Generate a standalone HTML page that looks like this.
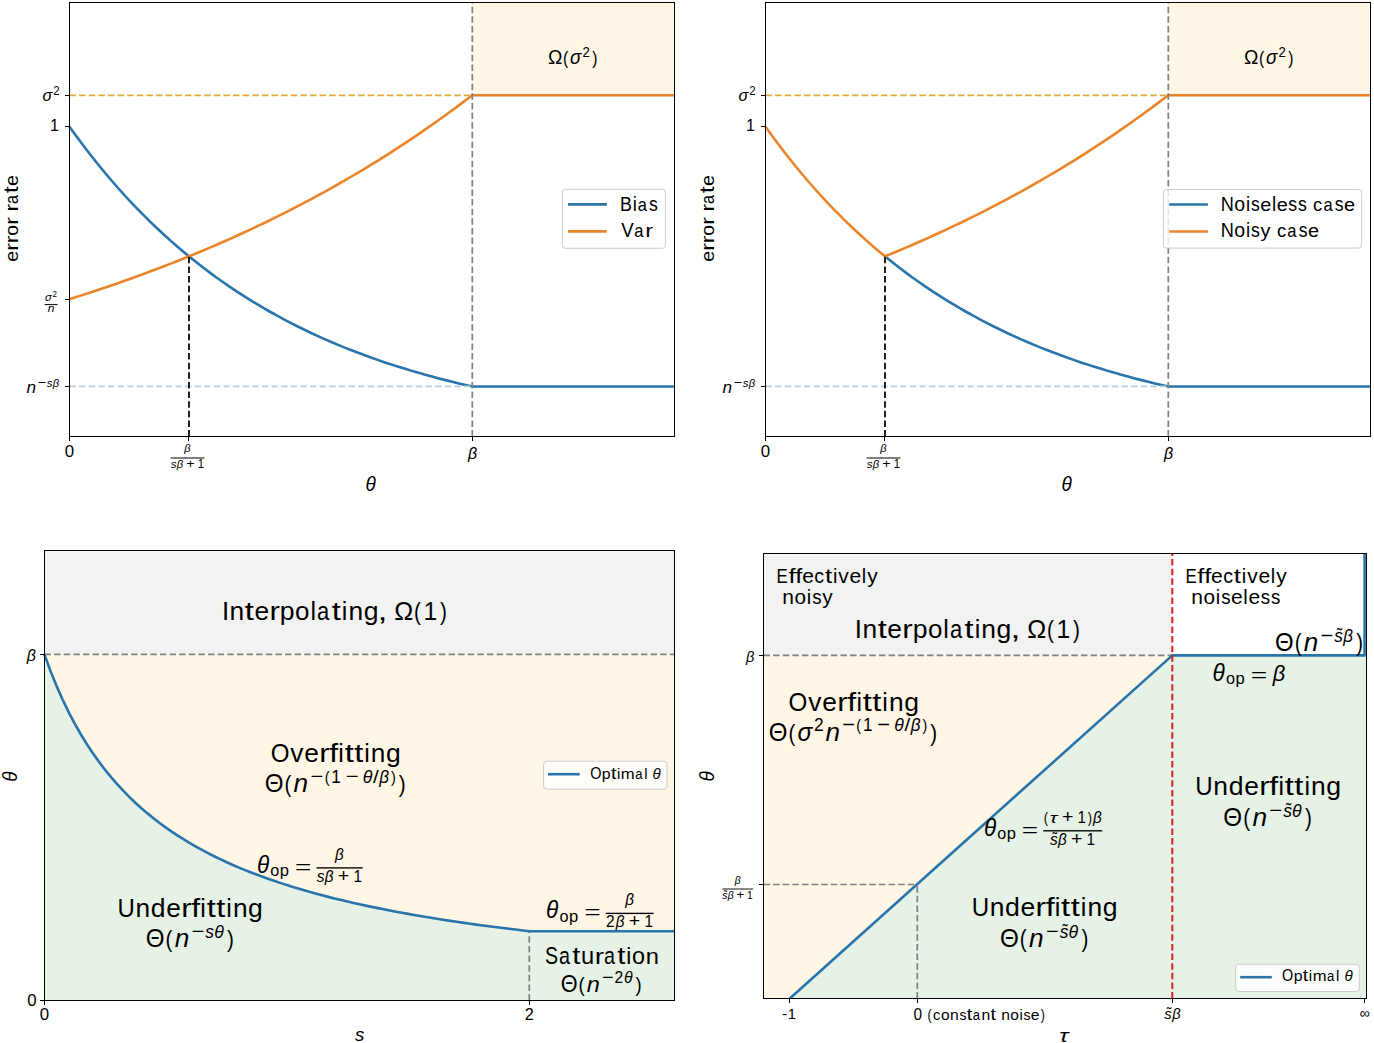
<!DOCTYPE html>
<html><head><meta charset="utf-8"><style>html,body{margin:0;padding:0;background:#fff;}svg{display:block;} svg text{font-family:"Liberation Sans", sans-serif;}</style></head>
<body>
<svg width="1374" height="1043" viewBox="0 0 1374 1043">
<rect width="1374" height="1043" fill="#fff"/>
<rect x="472.3" y="2.5" width="202.2" height="92.8" fill="#fff6e6"/>
<polyline points="69.5,126.77 76.21,136.06 82.93,145.08 89.64,153.82 96.35,162.3 103.07,170.52 109.78,178.5 116.49,186.24 123.21,193.75 129.92,201.03 136.63,208.09 143.35,214.94 150.06,221.59 156.77,228.03 163.49,234.29 170.2,240.35 176.91,246.23 183.63,251.94 190.34,257.47 197.05,262.84 203.77,268.05 210.48,273.1 217.19,278 223.91,282.75 230.62,287.36 237.33,291.83 244.05,296.17 250.76,300.37 257.47,304.45 264.19,308.41 270.9,312.25 277.61,315.97 284.33,319.58 291.04,323.09 297.75,326.48 304.47,329.78 311.18,332.98 317.89,336.08 324.61,339.09 331.32,342.01 338.03,344.84 344.75,347.58 351.46,350.24 358.17,352.83 364.89,355.33 371.6,357.76 378.31,360.12 385.03,362.4 391.74,364.62 398.45,366.77 405.17,368.86 411.88,370.88 418.59,372.85 425.31,374.75 432.02,376.6 438.73,378.39 445.45,380.13 452.16,381.81 458.87,383.45 465.59,385.03 472.3,386.57 674.5,386.57" fill="none" stroke="#2874ab" stroke-width="2.6" stroke-linejoin="round" stroke-linecap="butt"/>
<polyline points="69.5,299.14 76.21,297.03 82.93,294.88 89.64,292.71 96.35,290.5 103.07,288.25 109.78,285.98 116.49,283.66 123.21,281.32 129.92,278.94 136.63,276.52 143.35,274.06 150.06,271.57 156.77,269.04 163.49,266.48 170.2,263.87 176.91,261.22 183.63,258.54 190.34,255.81 197.05,253.05 203.77,250.24 210.48,247.39 217.19,244.49 223.91,241.55 230.62,238.57 237.33,235.55 244.05,232.47 250.76,229.35 257.47,226.19 264.19,222.97 270.9,219.71 277.61,216.4 284.33,213.04 291.04,209.62 297.75,206.16 304.47,202.64 311.18,199.07 317.89,195.45 324.61,191.77 331.32,188.04 338.03,184.25 344.75,180.4 351.46,176.5 358.17,172.53 364.89,168.51 371.6,164.42 378.31,160.28 385.03,156.07 391.74,151.79 398.45,147.46 405.17,143.05 411.88,138.58 418.59,134.05 425.31,129.44 432.02,124.77 438.73,120.02 445.45,115.21 452.16,110.32 458.87,105.35 465.59,100.31 472.3,95.2 674.5,95.2" fill="none" stroke="#ec842a" stroke-width="2.6" stroke-linejoin="round" stroke-linecap="butt"/>
<line x1="69.5" y1="95.3" x2="472.3" y2="95.3" stroke="#e5a93c" stroke-width="1.73" stroke-dasharray="6.5 3.12"/>
<line x1="69.5" y1="386.4" x2="472.3" y2="386.4" stroke="#b3d3e0" stroke-width="1.73" stroke-dasharray="6.5 3.12"/>
<line x1="472.3" y1="436.5" x2="472.3" y2="2.5" stroke="#808080" stroke-width="1.73" stroke-dasharray="6.5 3.12"/>
<line x1="188.98" y1="436.5" x2="188.98" y2="256.37" stroke="#000" stroke-width="1.73" stroke-dasharray="6.5 3.12"/>
<rect x="69.5" y="2.5" width="605" height="434" fill="none" stroke="#000" stroke-width="1"/>
<line x1="65" y1="95.5" x2="69.5" y2="95.5" stroke="#000" stroke-width="1"/>
<line x1="65" y1="126.5" x2="69.5" y2="126.5" stroke="#000" stroke-width="1"/>
<line x1="65" y1="386.5" x2="69.5" y2="386.5" stroke="#000" stroke-width="1"/>
<line x1="65" y1="299.5" x2="69.5" y2="299.5" stroke="#000" stroke-width="1"/>
<line x1="69.5" y1="436.5" x2="69.5" y2="441" stroke="#000" stroke-width="1"/>
<line x1="188.5" y1="436.5" x2="188.5" y2="441" stroke="#000" stroke-width="1"/>
<line x1="472.5" y1="436.5" x2="472.5" y2="441" stroke="#000" stroke-width="1"/>
<g><text transform="matrix(1.0024,0,0,1.0436,42.61,101.07)" font-size="16" font-style="italic">σ</text><text transform="matrix(1.0161,0,0,1.0629,53.34,94.95)" font-size="11.2">2</text></g>
<g><text transform="matrix(1.0068,0,0,1.0596,50.03,131.4)" font-size="16">1</text></g>
<g><text transform="matrix(1.0024,0,0,1.0436,44.97,300.94)" font-size="11.2" font-style="italic">σ</text><text transform="matrix(1.0161,0,0,1.0629,52.48,296.65)" font-size="7.84">2</text><text transform="matrix(1.0741,0,0,1.0418,47.8,312.37)" font-size="11.2" font-style="italic">n</text><rect x="44.71" y="304.1" width="12.89" height="1"/></g>
<g><text transform="matrix(1.0741,0,0,1.0418,26.57,392.99)" font-size="16" font-style="italic">n</text><text transform="matrix(1.2884,0,0,1.1644,37.65,386.86)" font-size="11.2">−</text><text transform="matrix(1.0246,0,0,1.0509,46.66,386.86)" font-size="11.2" font-style="italic">s</text><text transform="matrix(1.0026,0,0,1.0450,52.66,386.86)" font-size="11.2" font-style="italic">β</text></g>
<g><text transform="matrix(1.0541,0,0,1.0683,64.81,456.57)" font-size="16">0</text></g>
<g><text transform="matrix(1.0026,0,0,1.0450,184.18,452.17)" font-size="11.2" font-style="italic">β</text><text transform="matrix(1.0246,0,0,1.0509,170.65,468.08)" font-size="11.2" font-style="italic">s</text><text transform="matrix(1.0026,0,0,1.0450,176.65,468.08)" font-size="11.2" font-style="italic">β</text><text transform="matrix(1.2884,0,0,1.2000,186.2,468.08)" font-size="11.2">+</text><text transform="matrix(1.0068,0,0,1.0596,197.66,468.08)" font-size="11.2">1</text><rect x="170.56" y="457.5" width="33.86" height="1"/></g>
<g><text transform="matrix(1.0026,0,0,1.0450,468.11,458.76)" font-size="16" font-style="italic">β</text></g>
<g><text transform="matrix(1.0363,0,0,1.0605,365.57,491.05)" font-size="18.3" font-style="italic">θ</text></g>
<g transform="translate(18.16,262) rotate(-90)"><text transform="matrix(1.0801,0,0,1.0481,0.17,-0.02)" font-size="18.1">e</text><text transform="matrix(1.2812,0,0,1.0408,11.24,-0.02)" font-size="18.1">r</text><text transform="matrix(1.2812,0,0,1.0408,18.68,-0.02)" font-size="18.1">r</text><text transform="matrix(1.0631,0,0,1.0481,26.21,-0.02)" font-size="18.1">o</text><text transform="matrix(1.2812,0,0,1.0408,37.2,-0.02)" font-size="18.1">r</text><text transform="matrix(1.2812,0,0,1.0408,50.39,-0.02)" font-size="18.1">r</text><text transform="matrix(0.8992,0,0,1.0481,58.12,-0.02)" font-size="18.1">a</text><text transform="matrix(1.3365,0,0,1.0731,68.94,-0.02)" font-size="18.1">t</text><text transform="matrix(1.0801,0,0,1.0481,76.09,-0.02)" font-size="18.1">e</text></g>
<g><text transform="matrix(1.0391,0,0,1.0566,547.98,64.19)" font-size="18.6">Ω</text><text transform="matrix(0.8453,0,0,0.9560,562.93,64.19)" font-size="18.6">(</text><text transform="matrix(1.0024,0,0,1.0436,570,64.19)" font-size="18.6" font-style="italic">σ</text><text transform="matrix(1.0161,0,0,1.0629,582.47,57.07)" font-size="13.02">2</text><text transform="matrix(0.8453,0,0,0.9560,592.37,64.19)" font-size="18.6">)</text></g>
<rect x="562.3" y="189.3" width="103.1" height="59" rx="3" ry="3" fill="#ffffff" fill-opacity="0.8" stroke="#cccccc" stroke-width="1"/>
<line x1="568" y1="204.4" x2="606.8" y2="204.4" stroke="#2874ab" stroke-width="2.6"/>
<line x1="568" y1="231.4" x2="606.8" y2="231.4" stroke="#ec842a" stroke-width="2.6"/>
<g><text transform="matrix(0.9716,0,0,1.0596,619.93,210.7)" font-size="18.4">B</text><text transform="matrix(1.0222,0,0,1.0485,632.69,210.7)" font-size="18.4">i</text><text transform="matrix(0.8992,0,0,1.0481,637.73,210.7)" font-size="18.4">a</text><text transform="matrix(0.9586,0,0,1.0509,649.11,210.7)" font-size="18.4">s</text></g>
<g><text transform="matrix(1.0148,0,0,1.0596,621.32,237.2)" font-size="18.4">V</text><text transform="matrix(0.8992,0,0,1.0481,634.25,237.2)" font-size="18.4">a</text><text transform="matrix(1.2812,0,0,1.0408,645.22,237.2)" font-size="18.4">r</text></g>
<rect x="1168.3" y="2.5" width="202.2" height="92.8" fill="#fff6e6"/>
<polyline points="886.34,257.47 893.05,262.84 899.77,268.05 906.48,273.1 913.19,278 919.91,282.75 926.62,287.36 933.33,291.83 940.05,296.17 946.76,300.37 953.47,304.45 960.19,308.41 966.9,312.25 973.61,315.97 980.33,319.58 987.04,323.09 993.75,326.48 1000.47,329.78 1007.18,332.98 1013.89,336.08 1020.61,339.09 1027.32,342.01 1034.03,344.84 1040.75,347.58 1047.46,350.24 1054.17,352.83 1060.89,355.33 1067.6,357.76 1074.31,360.12 1081.03,362.4 1087.74,364.62 1094.45,366.77 1101.17,368.86 1107.88,370.88 1114.59,372.85 1121.31,374.75 1128.02,376.6 1134.73,378.39 1141.45,380.13 1148.16,381.81 1154.87,383.45 1161.59,385.03 1168.3,386.57 1370.5,386.57" fill="none" stroke="#2874ab" stroke-width="2.6" stroke-linejoin="round" stroke-linecap="butt"/>
<polyline points="765.5,126.77 772.21,136.06 778.93,145.08 785.64,153.82 792.35,162.3 799.07,170.52 805.78,178.5 812.49,186.24 819.21,193.75 825.92,201.03 832.63,208.09 839.35,214.94 846.06,221.59 852.77,228.03 859.49,234.29 866.2,240.35 872.91,246.23 879.63,251.94 884.98,256.37 886.34,255.81 893.05,253.05 899.77,250.24 906.48,247.39 913.19,244.49 919.91,241.55 926.62,238.57 933.33,235.55 940.05,232.47 946.76,229.35 953.47,226.19 960.19,222.97 966.9,219.71 973.61,216.4 980.33,213.04 987.04,209.62 993.75,206.16 1000.47,202.64 1007.18,199.07 1013.89,195.45 1020.61,191.77 1027.32,188.04 1034.03,184.25 1040.75,180.4 1047.46,176.5 1054.17,172.53 1060.89,168.51 1067.6,164.42 1074.31,160.28 1081.03,156.07 1087.74,151.79 1094.45,147.46 1101.17,143.05 1107.88,138.58 1114.59,134.05 1121.31,129.44 1128.02,124.77 1134.73,120.02 1141.45,115.21 1148.16,110.32 1154.87,105.35 1161.59,100.31 1168.3,95.2 1370.5,95.2" fill="none" stroke="#ec842a" stroke-width="2.6" stroke-linejoin="round" stroke-linecap="butt"/>
<line x1="765.5" y1="95.3" x2="1168.3" y2="95.3" stroke="#e5a93c" stroke-width="1.73" stroke-dasharray="6.5 3.12"/>
<line x1="765.5" y1="386.4" x2="1168.3" y2="386.4" stroke="#b3d3e0" stroke-width="1.73" stroke-dasharray="6.5 3.12"/>
<line x1="1168.3" y1="436.5" x2="1168.3" y2="2.5" stroke="#808080" stroke-width="1.73" stroke-dasharray="6.5 3.12"/>
<line x1="884.98" y1="436.5" x2="884.98" y2="256.37" stroke="#000" stroke-width="1.73" stroke-dasharray="6.5 3.12"/>
<rect x="765.5" y="2.5" width="605" height="434" fill="none" stroke="#000" stroke-width="1"/>
<line x1="761" y1="95.5" x2="765.5" y2="95.5" stroke="#000" stroke-width="1"/>
<line x1="761" y1="126.5" x2="765.5" y2="126.5" stroke="#000" stroke-width="1"/>
<line x1="761" y1="386.5" x2="765.5" y2="386.5" stroke="#000" stroke-width="1"/>
<line x1="765.5" y1="436.5" x2="765.5" y2="441" stroke="#000" stroke-width="1"/>
<line x1="884.5" y1="436.5" x2="884.5" y2="441" stroke="#000" stroke-width="1"/>
<line x1="1168.5" y1="436.5" x2="1168.5" y2="441" stroke="#000" stroke-width="1"/>
<g><text transform="matrix(1.0024,0,0,1.0436,738.61,101.07)" font-size="16" font-style="italic">σ</text><text transform="matrix(1.0161,0,0,1.0629,749.34,94.95)" font-size="11.2">2</text></g>
<g><text transform="matrix(1.0068,0,0,1.0596,746.03,131.4)" font-size="16">1</text></g>
<g><text transform="matrix(1.0741,0,0,1.0418,722.57,392.99)" font-size="16" font-style="italic">n</text><text transform="matrix(1.2884,0,0,1.1644,733.65,386.86)" font-size="11.2">−</text><text transform="matrix(1.0246,0,0,1.0509,742.66,386.86)" font-size="11.2" font-style="italic">s</text><text transform="matrix(1.0026,0,0,1.0450,748.66,386.86)" font-size="11.2" font-style="italic">β</text></g>
<g><text transform="matrix(1.0541,0,0,1.0683,760.81,456.57)" font-size="16">0</text></g>
<g><text transform="matrix(1.0026,0,0,1.0450,880.18,452.17)" font-size="11.2" font-style="italic">β</text><text transform="matrix(1.0246,0,0,1.0509,866.65,468.08)" font-size="11.2" font-style="italic">s</text><text transform="matrix(1.0026,0,0,1.0450,872.65,468.08)" font-size="11.2" font-style="italic">β</text><text transform="matrix(1.2884,0,0,1.2000,882.2,468.08)" font-size="11.2">+</text><text transform="matrix(1.0068,0,0,1.0596,893.66,468.08)" font-size="11.2">1</text><rect x="866.56" y="457.5" width="33.86" height="1"/></g>
<g><text transform="matrix(1.0026,0,0,1.0450,1164.11,458.76)" font-size="16" font-style="italic">β</text></g>
<g><text transform="matrix(1.0363,0,0,1.0605,1061.57,491.05)" font-size="18.3" font-style="italic">θ</text></g>
<g transform="translate(714.16,262) rotate(-90)"><text transform="matrix(1.0801,0,0,1.0481,0.17,-0.02)" font-size="18.1">e</text><text transform="matrix(1.2812,0,0,1.0408,11.24,-0.02)" font-size="18.1">r</text><text transform="matrix(1.2812,0,0,1.0408,18.68,-0.02)" font-size="18.1">r</text><text transform="matrix(1.0631,0,0,1.0481,26.21,-0.02)" font-size="18.1">o</text><text transform="matrix(1.2812,0,0,1.0408,37.2,-0.02)" font-size="18.1">r</text><text transform="matrix(1.2812,0,0,1.0408,50.39,-0.02)" font-size="18.1">r</text><text transform="matrix(0.8992,0,0,1.0481,58.12,-0.02)" font-size="18.1">a</text><text transform="matrix(1.3365,0,0,1.0731,68.94,-0.02)" font-size="18.1">t</text><text transform="matrix(1.0801,0,0,1.0481,76.09,-0.02)" font-size="18.1">e</text></g>
<g><text transform="matrix(1.0391,0,0,1.0566,1243.98,64.19)" font-size="18.6">Ω</text><text transform="matrix(0.8453,0,0,0.9560,1258.93,64.19)" font-size="18.6">(</text><text transform="matrix(1.0024,0,0,1.0436,1266,64.19)" font-size="18.6" font-style="italic">σ</text><text transform="matrix(1.0161,0,0,1.0629,1278.47,57.07)" font-size="13.02">2</text><text transform="matrix(0.8453,0,0,0.9560,1288.37,64.19)" font-size="18.6">)</text></g>
<rect x="1163.4" y="189.5" width="198.2" height="58.6" rx="3" ry="3" fill="#ffffff" fill-opacity="0.8" stroke="#cccccc" stroke-width="1"/>
<line x1="1169.2" y1="204.5" x2="1207.9" y2="204.5" stroke="#2874ab" stroke-width="2.6"/>
<line x1="1169.2" y1="231.5" x2="1207.9" y2="231.5" stroke="#ec842a" stroke-width="2.6"/>
<g><text transform="matrix(0.9878,0,0,1.0596,1220.71,211)" font-size="18.4">N</text><text transform="matrix(1.0631,0,0,1.0481,1234.35,211)" font-size="18.4">o</text><text transform="matrix(1.0222,0,0,1.0485,1245.89,211)" font-size="18.4">i</text><text transform="matrix(0.9586,0,0,1.0509,1251.03,211)" font-size="18.4">s</text><text transform="matrix(1.0801,0,0,1.0481,1260.29,211)" font-size="18.4">e</text><text transform="matrix(1.0222,0,0,1.0485,1271.9,211)" font-size="18.4">l</text><text transform="matrix(1.0801,0,0,1.0481,1276.72,211)" font-size="18.4">e</text><text transform="matrix(0.9586,0,0,1.0509,1288.37,211)" font-size="18.4">s</text><text transform="matrix(0.9586,0,0,1.0509,1297.96,211)" font-size="18.4">s</text><text transform="matrix(1.0034,0,0,1.0481,1313.12,211)" font-size="18.4">c</text><text transform="matrix(0.8992,0,0,1.0481,1323.41,211)" font-size="18.4">a</text><text transform="matrix(0.9586,0,0,1.0509,1334.79,211)" font-size="18.4">s</text><text transform="matrix(1.0801,0,0,1.0481,1344.04,211)" font-size="18.4">e</text></g>
<g><text transform="matrix(0.9878,0,0,1.0596,1220.71,237.4)" font-size="18.4">N</text><text transform="matrix(1.0631,0,0,1.0481,1234.35,237.4)" font-size="18.4">o</text><text transform="matrix(1.0222,0,0,1.0485,1245.89,237.4)" font-size="18.4">i</text><text transform="matrix(0.9586,0,0,1.0509,1251.03,237.4)" font-size="18.4">s</text><text transform="matrix(1.0739,0,0,1.0259,1260.61,237.4)" font-size="18.4">y</text><text transform="matrix(1.0034,0,0,1.0481,1277.08,237.4)" font-size="18.4">c</text><text transform="matrix(0.8992,0,0,1.0481,1287.37,237.4)" font-size="18.4">a</text><text transform="matrix(0.9586,0,0,1.0509,1298.75,237.4)" font-size="18.4">s</text><text transform="matrix(1.0801,0,0,1.0481,1308,237.4)" font-size="18.4">e</text></g>
<rect x="44.5" y="550.5" width="630" height="103.9" fill="#f2f2f2"/>
<polygon points="44.5,654.4 44.4,654.4 50.46,670.88 56.52,685.85 62.58,699.53 68.64,712.07 74.71,723.6 80.77,734.25 86.83,744.1 92.89,753.26 98.95,761.78 105.01,769.73 111.07,777.17 117.13,784.15 123.2,790.7 129.26,796.87 135.32,802.69 141.38,808.18 147.44,813.37 153.5,818.29 159.56,822.96 165.62,827.4 171.69,831.62 177.75,835.64 183.81,839.47 189.87,843.13 195.93,846.62 201.99,849.97 208.05,853.17 214.11,856.23 220.18,859.18 226.24,862 232.3,864.71 238.36,867.32 244.42,869.83 250.48,872.25 256.54,874.58 262.6,876.83 268.67,879 274.73,881.09 280.79,883.11 286.85,885.07 292.91,886.96 298.97,888.79 305.03,890.56 311.09,892.27 317.16,893.94 323.22,895.55 329.28,897.12 335.34,898.64 341.4,900.11 347.46,901.54 353.52,902.94 359.58,904.29 365.65,905.61 371.71,906.89 377.77,908.13 383.83,909.35 389.89,910.53 395.95,911.68 402.01,912.81 408.07,913.9 414.14,914.97 420.2,916.01 426.26,917.03 432.32,918.02 438.38,918.99 444.44,919.93 450.5,920.86 456.56,921.76 462.63,922.65 468.69,923.51 474.75,924.36 480.81,925.18 486.87,925.99 492.93,926.78 498.99,927.56 505.05,928.32 511.12,929.06 517.18,929.79 523.24,930.5 529.3,931.2 674.5,931.2 674.5,654.4" fill="#fff6e6"/>
<polygon points="44.5,1000.5 44.4,654.4 50.46,670.88 56.52,685.85 62.58,699.53 68.64,712.07 74.71,723.6 80.77,734.25 86.83,744.1 92.89,753.26 98.95,761.78 105.01,769.73 111.07,777.17 117.13,784.15 123.2,790.7 129.26,796.87 135.32,802.69 141.38,808.18 147.44,813.37 153.5,818.29 159.56,822.96 165.62,827.4 171.69,831.62 177.75,835.64 183.81,839.47 189.87,843.13 195.93,846.62 201.99,849.97 208.05,853.17 214.11,856.23 220.18,859.18 226.24,862 232.3,864.71 238.36,867.32 244.42,869.83 250.48,872.25 256.54,874.58 262.6,876.83 268.67,879 274.73,881.09 280.79,883.11 286.85,885.07 292.91,886.96 298.97,888.79 305.03,890.56 311.09,892.27 317.16,893.94 323.22,895.55 329.28,897.12 335.34,898.64 341.4,900.11 347.46,901.54 353.52,902.94 359.58,904.29 365.65,905.61 371.71,906.89 377.77,908.13 383.83,909.35 389.89,910.53 395.95,911.68 402.01,912.81 408.07,913.9 414.14,914.97 420.2,916.01 426.26,917.03 432.32,918.02 438.38,918.99 444.44,919.93 450.5,920.86 456.56,921.76 462.63,922.65 468.69,923.51 474.75,924.36 480.81,925.18 486.87,925.99 492.93,926.78 498.99,927.56 505.05,928.32 511.12,929.06 517.18,929.79 523.24,930.5 529.3,931.2 674.5,931.2 674.5,1000.5" fill="#e6f2e6"/>
<line x1="44.5" y1="654.4" x2="674.5" y2="654.4" stroke="#808080" stroke-width="1.73" stroke-dasharray="6.5 3.12"/>
<line x1="529.3" y1="1000.5" x2="529.3" y2="931.2" stroke="#808080" stroke-width="1.73" stroke-dasharray="6.5 3.12"/>
<polyline points="44.4,654.4 50.46,670.88 56.52,685.85 62.58,699.53 68.64,712.07 74.71,723.6 80.77,734.25 86.83,744.1 92.89,753.26 98.95,761.78 105.01,769.73 111.07,777.17 117.13,784.15 123.2,790.7 129.26,796.87 135.32,802.69 141.38,808.18 147.44,813.37 153.5,818.29 159.56,822.96 165.62,827.4 171.69,831.62 177.75,835.64 183.81,839.47 189.87,843.13 195.93,846.62 201.99,849.97 208.05,853.17 214.11,856.23 220.18,859.18 226.24,862 232.3,864.71 238.36,867.32 244.42,869.83 250.48,872.25 256.54,874.58 262.6,876.83 268.67,879 274.73,881.09 280.79,883.11 286.85,885.07 292.91,886.96 298.97,888.79 305.03,890.56 311.09,892.27 317.16,893.94 323.22,895.55 329.28,897.12 335.34,898.64 341.4,900.11 347.46,901.54 353.52,902.94 359.58,904.29 365.65,905.61 371.71,906.89 377.77,908.13 383.83,909.35 389.89,910.53 395.95,911.68 402.01,912.81 408.07,913.9 414.14,914.97 420.2,916.01 426.26,917.03 432.32,918.02 438.38,918.99 444.44,919.93 450.5,920.86 456.56,921.76 462.63,922.65 468.69,923.51 474.75,924.36 480.81,925.18 486.87,925.99 492.93,926.78 498.99,927.56 505.05,928.32 511.12,929.06 517.18,929.79 523.24,930.5 529.3,931.2 674.5,931.2" fill="none" stroke="#2874ab" stroke-width="2.6" stroke-linejoin="round" stroke-linecap="butt"/>
<rect x="44.5" y="550.5" width="630" height="450" fill="none" stroke="#000" stroke-width="1"/>
<line x1="40" y1="654.5" x2="44.5" y2="654.5" stroke="#000" stroke-width="1"/>
<line x1="40" y1="1000.5" x2="44.5" y2="1000.5" stroke="#000" stroke-width="1"/>
<line x1="44.5" y1="1000.5" x2="44.5" y2="1005" stroke="#000" stroke-width="1"/>
<line x1="529.5" y1="1000.5" x2="529.5" y2="1005" stroke="#000" stroke-width="1"/>
<g><text transform="matrix(1.0026,0,0,1.0450,26.63,660.86)" font-size="16" font-style="italic">β</text></g>
<g><text transform="matrix(1.0541,0,0,1.0683,27.18,1006.07)" font-size="16">0</text></g>
<g><text transform="matrix(1.0541,0,0,1.0683,39.81,1019.77)" font-size="16">0</text></g>
<g><text transform="matrix(1.0161,0,0,1.0629,524.78,1020)" font-size="16">2</text></g>
<g><text transform="matrix(1.0246,0,0,1.0509,354.98,1041.04)" font-size="18.3" font-style="italic">s</text></g>
<g transform="translate(17.4,781.71) rotate(-90)"><text transform="matrix(1.0363,0,0,1.0605,0.07,-0.01)" font-size="18.3" font-style="italic">θ</text></g>
<g><text transform="matrix(1.0576,0,0,1.0596,221.91,619.59)" font-size="24.45">I</text><text transform="matrix(1.0782,0,0,1.0408,229.58,619.59)" font-size="24.45">n</text><text transform="matrix(1.3365,0,0,1.0731,244.77,619.59)" font-size="24.45">t</text><text transform="matrix(1.0801,0,0,1.0481,254.42,619.59)" font-size="24.45">e</text><text transform="matrix(1.2812,0,0,1.0408,269.38,619.59)" font-size="24.45">r</text><text transform="matrix(1.0879,0,0,1.0308,279.79,619.59)" font-size="24.45">p</text><text transform="matrix(1.0631,0,0,1.0481,295.07,619.59)" font-size="24.45">o</text><text transform="matrix(1.0222,0,0,1.0485,310.39,619.59)" font-size="24.45">l</text><text transform="matrix(0.8992,0,0,1.0481,317.09,619.59)" font-size="24.45">a</text><text transform="matrix(1.3365,0,0,1.0731,331.71,619.59)" font-size="24.45">t</text><text transform="matrix(1.0222,0,0,1.0485,341.76,619.59)" font-size="24.45">i</text><text transform="matrix(1.0782,0,0,1.0408,348.39,619.59)" font-size="24.45">n</text><text transform="matrix(1.0869,0,0,1.0322,363.65,619.59)" font-size="24.45">g</text><text transform="matrix(1.4577,0,0,1.0229,377.62,619.59)" font-size="24.45">,</text><text transform="matrix(1.0391,0,0,1.0566,394.33,619.59)" font-size="24.45">Ω</text><text transform="matrix(0.8453,0,0,0.9560,413.99,619.59)" font-size="24.45">(</text><text transform="matrix(1.0068,0,0,1.0596,423.52,619.59)" font-size="24.45">1</text><text transform="matrix(0.8453,0,0,0.9560,440.1,619.59)" font-size="24.45">)</text></g>
<g><text transform="matrix(0.9886,0,0,1.0683,270.66,761.69)" font-size="24.4">O</text><text transform="matrix(1.0792,0,0,1.0351,290.27,761.69)" font-size="24.4">v</text><text transform="matrix(1.0801,0,0,1.0481,304.3,761.69)" font-size="24.4">e</text><text transform="matrix(1.2812,0,0,1.0408,319.23,761.69)" font-size="24.4">r</text><text transform="matrix(1.3131,0,0,1.0499,329.22,761.69)" font-size="24.4">f</text><text transform="matrix(1.0222,0,0,1.0485,338.34,761.69)" font-size="24.4">i</text><text transform="matrix(1.3365,0,0,1.0731,344.65,761.69)" font-size="24.4">t</text><text transform="matrix(1.3365,0,0,1.0731,354.22,761.69)" font-size="24.4">t</text><text transform="matrix(1.0222,0,0,1.0485,364.25,761.69)" font-size="24.4">i</text><text transform="matrix(1.0782,0,0,1.0408,370.87,761.69)" font-size="24.4">n</text><text transform="matrix(1.0869,0,0,1.0322,386.1,761.69)" font-size="24.4">g</text></g>
<g><text transform="matrix(0.9886,0,0,1.0683,264.66,791.98)" font-size="24.4">Θ</text><text transform="matrix(0.8453,0,0,0.9560,284.45,791.98)" font-size="24.4">(</text><text transform="matrix(1.0741,0,0,1.0418,293.58,791.98)" font-size="24.4" font-style="italic">n</text><text transform="matrix(1.2884,0,0,1.1644,310.48,782.64)" font-size="17.08">−</text><text transform="matrix(0.8453,0,0,0.9560,324.64,782.64)" font-size="17.08">(</text><text transform="matrix(1.0068,0,0,1.0596,331.3,782.64)" font-size="17.08">1</text><text transform="matrix(1.2884,0,0,1.1644,345.65,782.64)" font-size="17.08">−</text><text transform="matrix(1.0363,0,0,1.0605,362.63,782.64)" font-size="17.08" font-style="italic">θ</text><text transform="matrix(1.2127,0,0,1.1190,373.01,782.64)" font-size="17.08">/</text><text transform="matrix(1.0026,0,0,1.0450,379.17,782.64)" font-size="17.08" font-style="italic">β</text><text transform="matrix(0.8453,0,0,0.9560,390.95,782.64)" font-size="17.08">)</text><text transform="matrix(0.8453,0,0,0.9560,398.83,791.98)" font-size="24.4">)</text></g>
<g><text transform="matrix(0.9828,0,0,1.0651,117.55,917.39)" font-size="24.4">U</text><text transform="matrix(1.0782,0,0,1.0408,135.61,917.39)" font-size="24.4">n</text><text transform="matrix(1.0869,0,0,1.0539,150.84,917.39)" font-size="24.4">d</text><text transform="matrix(1.0801,0,0,1.0481,166.32,917.39)" font-size="24.4">e</text><text transform="matrix(1.2812,0,0,1.0408,181.24,917.39)" font-size="24.4">r</text><text transform="matrix(1.3131,0,0,1.0499,191.24,917.39)" font-size="24.4">f</text><text transform="matrix(1.0222,0,0,1.0485,200.36,917.39)" font-size="24.4">i</text><text transform="matrix(1.3365,0,0,1.0731,206.67,917.39)" font-size="24.4">t</text><text transform="matrix(1.3365,0,0,1.0731,216.23,917.39)" font-size="24.4">t</text><text transform="matrix(1.0222,0,0,1.0485,226.27,917.39)" font-size="24.4">i</text><text transform="matrix(1.0782,0,0,1.0408,232.89,917.39)" font-size="24.4">n</text><text transform="matrix(1.0869,0,0,1.0322,248.11,917.39)" font-size="24.4">g</text></g>
<g><text transform="matrix(0.9886,0,0,1.0683,145.76,946.98)" font-size="24.4">Θ</text><text transform="matrix(0.8453,0,0,0.9560,165.55,946.98)" font-size="24.4">(</text><text transform="matrix(1.0741,0,0,1.0418,174.68,946.98)" font-size="24.4" font-style="italic">n</text><text transform="matrix(1.2884,0,0,1.1644,191.58,937.64)" font-size="17.08">−</text><text transform="matrix(1.0246,0,0,1.0509,205.31,937.64)" font-size="17.08" font-style="italic">s</text><text transform="matrix(1.0363,0,0,1.0605,214.13,937.64)" font-size="17.08" font-style="italic">θ</text><text transform="matrix(0.8453,0,0,0.9560,227.01,946.98)" font-size="24.4">)</text></g>
<g><text transform="matrix(1.0363,0,0,1.0605,256.89,872.68)" font-size="21.8" font-style="italic">θ</text><text transform="matrix(1.0631,0,0,1.0481,270.3,876.26)" font-size="15.26">o</text><text transform="matrix(1.0879,0,0,1.0308,279.79,876.26)" font-size="15.26">p</text><text transform="matrix(1.2884,0,0,0.8758,294.94,872.68)" font-size="21.8">=</text><text transform="matrix(1.0026,0,0,1.0450,335.08,859.96)" font-size="15.26" font-style="italic">β</text><text transform="matrix(1.0246,0,0,1.0509,316.65,881.63)" font-size="15.26" font-style="italic">s</text><text transform="matrix(1.0026,0,0,1.0450,324.82,881.63)" font-size="15.26" font-style="italic">β</text><text transform="matrix(1.2884,0,0,1.2000,337.83,881.63)" font-size="15.26">+</text><text transform="matrix(1.0068,0,0,1.0596,353.44,881.63)" font-size="15.26">1</text><rect x="316.51" y="867.22" width="46.13" height="1.36"/></g>
<g><text transform="matrix(1.0363,0,0,1.0605,546.09,918.18)" font-size="21.8" font-style="italic">θ</text><text transform="matrix(1.0631,0,0,1.0481,559.5,921.76)" font-size="15.26">o</text><text transform="matrix(1.0879,0,0,1.0308,568.99,921.76)" font-size="15.26">p</text><text transform="matrix(1.2884,0,0,0.8758,584.14,918.18)" font-size="21.8">=</text><text transform="matrix(1.0026,0,0,1.0450,625.15,905.46)" font-size="15.26" font-style="italic">β</text><text transform="matrix(1.0161,0,0,1.0629,606.05,927.13)" font-size="15.26">2</text><text transform="matrix(1.0026,0,0,1.0450,615.78,927.13)" font-size="15.26" font-style="italic">β</text><text transform="matrix(1.2884,0,0,1.2000,628.79,927.13)" font-size="15.26">+</text><text transform="matrix(1.0068,0,0,1.0596,644.4,927.13)" font-size="15.26">1</text><rect x="605.71" y="912.72" width="47.89" height="1.36"/></g>
<g><text transform="matrix(0.8914,0,0,1.0683,545.11,963.69)" font-size="22">S</text><text transform="matrix(0.8992,0,0,1.0481,559,963.69)" font-size="22">a</text><text transform="matrix(1.3365,0,0,1.0731,572.14,963.69)" font-size="22">t</text><text transform="matrix(1.0782,0,0,1.0672,580.95,963.69)" font-size="22">u</text><text transform="matrix(1.2812,0,0,1.0408,594.69,963.69)" font-size="22">r</text><text transform="matrix(0.8992,0,0,1.0481,604.09,963.69)" font-size="22">a</text><text transform="matrix(1.3365,0,0,1.0731,617.24,963.69)" font-size="22">t</text><text transform="matrix(1.0222,0,0,1.0485,626.29,963.69)" font-size="22">i</text><text transform="matrix(1.0631,0,0,1.0481,632.06,963.69)" font-size="22">o</text><text transform="matrix(1.0782,0,0,1.0408,645.71,963.69)" font-size="22">n</text></g>
<g><text transform="matrix(0.9886,0,0,1.0683,560.77,991.68)" font-size="21.9">Θ</text><text transform="matrix(0.8453,0,0,0.9560,578.54,991.68)" font-size="21.9">(</text><text transform="matrix(1.0741,0,0,1.0418,586.73,991.68)" font-size="21.9" font-style="italic">n</text><text transform="matrix(1.2884,0,0,1.1644,601.9,983.3)" font-size="15.33">−</text><text transform="matrix(1.0161,0,0,1.0629,614.43,983.3)" font-size="15.33">2</text><text transform="matrix(1.0363,0,0,1.0605,623.91,983.3)" font-size="15.33" font-style="italic">θ</text><text transform="matrix(0.8453,0,0,0.9560,635.47,991.68)" font-size="21.9">)</text></g>
<rect x="543.6" y="761.2" width="123.4" height="27.9" rx="3" ry="3" fill="#ffffff" fill-opacity="0.8" stroke="#cccccc" stroke-width="1"/>
<line x1="548" y1="774.2" x2="579.7" y2="774.2" stroke="#2874ab" stroke-width="2.6"/>
<g><text transform="matrix(0.9886,0,0,1.0683,590.22,778.59)" font-size="14.6">O</text><text transform="matrix(1.0879,0,0,1.0308,601.87,778.59)" font-size="14.6">p</text><text transform="matrix(1.3365,0,0,1.0731,610.94,778.59)" font-size="14.6">t</text><text transform="matrix(1.0222,0,0,1.0485,616.94,778.59)" font-size="14.6">i</text><text transform="matrix(1.1394,0,0,1.0408,620.84,778.59)" font-size="14.6">m</text><text transform="matrix(0.8992,0,0,1.0481,635.16,778.59)" font-size="14.6">a</text><text transform="matrix(1.0222,0,0,1.0485,644.16,778.59)" font-size="14.6">l</text><text transform="matrix(1.0363,0,0,1.0605,652.55,778.59)" font-size="14.6" font-style="italic">θ</text></g>
<rect x="763.5" y="553.5" width="408.8" height="101.9" fill="#f2f2f2"/>
<polygon points="763.5,655.4 1172.3,655.4 789.8,998.5 763.5,998.5" fill="#fff6e6"/>
<polygon points="789.8,998.5 1172.3,655.4 1366.5,655.4 1366.5,998.5" fill="#e6f2e6"/>
<line x1="763.5" y1="655.4" x2="1172.3" y2="655.4" stroke="#808080" stroke-width="1.73" stroke-dasharray="6.5 3.12"/>
<line x1="763.5" y1="884.5" x2="917.3" y2="884.5" stroke="#808080" stroke-width="1.73" stroke-dasharray="6.5 3.12"/>
<line x1="917.3" y1="998.5" x2="917.3" y2="884.5" stroke="#808080" stroke-width="1.73" stroke-dasharray="6.5 3.12"/>
<polyline points="789.8,998.5 1172.3,655.4 1364.6,655.4 1364.6,553.5" fill="none" stroke="#2874ab" stroke-width="2.6" stroke-linejoin="round" stroke-linecap="butt"/>
<line x1="1172.3" y1="998.5" x2="1172.3" y2="553.5" stroke="#d02424" stroke-width="2" stroke-dasharray="6.5 3.12"/>
<rect x="763.5" y="553.5" width="603" height="445" fill="none" stroke="#000" stroke-width="1"/>
<line x1="759" y1="655.5" x2="763.5" y2="655.5" stroke="#000" stroke-width="1"/>
<line x1="759" y1="884.5" x2="763.5" y2="884.5" stroke="#000" stroke-width="1"/>
<line x1="789.5" y1="998.5" x2="789.5" y2="1003" stroke="#000" stroke-width="1"/>
<line x1="917.5" y1="998.5" x2="917.5" y2="1003" stroke="#000" stroke-width="1"/>
<line x1="1172.5" y1="998.5" x2="1172.5" y2="1003" stroke="#000" stroke-width="1"/>
<line x1="1364.5" y1="998.5" x2="1364.5" y2="1003" stroke="#000" stroke-width="1"/>
<g><text transform="matrix(1.0026,0,0,1.0450,746.1,661.99)" font-size="14.6" font-style="italic">β</text></g>
<g><text transform="matrix(1.0026,0,0,1.0450,734.64,883.68)" font-size="10.22" font-style="italic">β</text><text transform="matrix(0.9205,0,0,1.0522,723.99,898.08)" font-size="10.22">˜</text><text transform="matrix(1.0246,0,0,1.0509,722.29,898.78)" font-size="10.22" font-style="italic">s</text><text transform="matrix(1.0026,0,0,1.0450,727.77,898.78)" font-size="10.22" font-style="italic">β</text><text transform="matrix(1.2884,0,0,1.2000,736.48,898.78)" font-size="10.22">+</text><text transform="matrix(1.0068,0,0,1.0596,746.94,898.78)" font-size="10.22">1</text><rect x="722.21" y="888.54" width="30.89" height="0.91"/></g>
<g><text transform="matrix(1.0780,0,0,1.0250,782.1,1019)" font-size="14.6">-</text><text transform="matrix(1.0068,0,0,1.0596,787.84,1019)" font-size="14.6">1</text></g>
<g><text transform="matrix(1.0541,0,0,1.0683,913.5,1019.59)" font-size="14.6">0</text><text transform="matrix(0.8453,0,0,0.9560,927.56,1019.59)" font-size="14.6">(</text><text transform="matrix(1.0034,0,0,1.0481,932.95,1019.59)" font-size="14.6">c</text><text transform="matrix(1.0631,0,0,1.0481,940.94,1019.59)" font-size="14.6">o</text><text transform="matrix(1.0782,0,0,1.0408,950,1019.59)" font-size="14.6">n</text><text transform="matrix(0.9586,0,0,1.0509,959.38,1019.59)" font-size="14.6">s</text><text transform="matrix(1.3365,0,0,1.0731,966.68,1019.59)" font-size="14.6">t</text><text transform="matrix(0.8992,0,0,1.0481,972.63,1019.59)" font-size="14.6">a</text><text transform="matrix(1.0782,0,0,1.0408,981.53,1019.59)" font-size="14.6">n</text><text transform="matrix(1.3365,0,0,1.0731,990.6,1019.59)" font-size="14.6">t</text><text transform="matrix(1.0782,0,0,1.0408,1001.15,1019.59)" font-size="14.6">n</text><text transform="matrix(1.0631,0,0,1.0481,1010.28,1019.59)" font-size="14.6">o</text><text transform="matrix(1.0222,0,0,1.0485,1019.44,1019.59)" font-size="14.6">i</text><text transform="matrix(0.9586,0,0,1.0509,1023.52,1019.59)" font-size="14.6">s</text><text transform="matrix(1.0801,0,0,1.0481,1030.86,1019.59)" font-size="14.6">e</text><text transform="matrix(0.8453,0,0,0.9560,1040.8,1019.59)" font-size="14.6">)</text></g>
<g><text transform="matrix(0.9205,0,0,1.0522,1166.79,1018.32)" font-size="14.6">˜</text><text transform="matrix(1.0246,0,0,1.0509,1164.37,1019.31)" font-size="14.6" font-style="italic">s</text><text transform="matrix(1.0026,0,0,1.0450,1172.19,1019.31)" font-size="14.6" font-style="italic">β</text></g>
<g><text transform="matrix(0.9844,0,0,0.9846,1359.48,1018.11)" font-size="14.6">∞</text></g>
<g><text transform="matrix(1.3430,0,0,1.0163,1059.32,1041.7)" font-size="18.3" font-style="italic">τ</text></g>
<g transform="translate(713.6,781.61) rotate(-90)"><text transform="matrix(1.0363,0,0,1.0605,0.07,-0.01)" font-size="18.3" font-style="italic">θ</text></g>
<g><text transform="matrix(0.8667,0,0,1.0596,776.51,583.1)" font-size="19.5">E</text><text transform="matrix(1.3131,0,0,1.0499,788.39,583.1)" font-size="19.5">f</text><text transform="matrix(1.3131,0,0,1.0499,795.26,583.1)" font-size="19.5">f</text><text transform="matrix(1.0801,0,0,1.0481,802.22,583.1)" font-size="19.5">e</text><text transform="matrix(1.0034,0,0,1.0481,814.28,583.1)" font-size="19.5">c</text><text transform="matrix(1.3365,0,0,1.0731,824.88,583.1)" font-size="19.5">t</text><text transform="matrix(1.0222,0,0,1.0485,832.91,583.1)" font-size="19.5">i</text><text transform="matrix(1.0792,0,0,1.0351,838.33,583.1)" font-size="19.5">v</text><text transform="matrix(1.0801,0,0,1.0481,849.54,583.1)" font-size="19.5">e</text><text transform="matrix(1.0222,0,0,1.0485,861.85,583.1)" font-size="19.5">l</text><text transform="matrix(1.0739,0,0,1.0259,867.3,583.1)" font-size="19.5">y</text></g>
<g><text transform="matrix(1.0782,0,0,1.0408,782.3,604.2)" font-size="19.5">n</text><text transform="matrix(1.0631,0,0,1.0481,794.49,604.2)" font-size="19.5">o</text><text transform="matrix(1.0222,0,0,1.0485,806.72,604.2)" font-size="19.5">i</text><text transform="matrix(0.9586,0,0,1.0509,812.17,604.2)" font-size="19.5">s</text><text transform="matrix(1.0739,0,0,1.0259,822.33,604.2)" font-size="19.5">y</text></g>
<g><text transform="matrix(0.8667,0,0,1.0596,1185.41,582.8)" font-size="19.5">E</text><text transform="matrix(1.3131,0,0,1.0499,1197.29,582.8)" font-size="19.5">f</text><text transform="matrix(1.3131,0,0,1.0499,1204.16,582.8)" font-size="19.5">f</text><text transform="matrix(1.0801,0,0,1.0481,1211.12,582.8)" font-size="19.5">e</text><text transform="matrix(1.0034,0,0,1.0481,1223.18,582.8)" font-size="19.5">c</text><text transform="matrix(1.3365,0,0,1.0731,1233.78,582.8)" font-size="19.5">t</text><text transform="matrix(1.0222,0,0,1.0485,1241.81,582.8)" font-size="19.5">i</text><text transform="matrix(1.0792,0,0,1.0351,1247.23,582.8)" font-size="19.5">v</text><text transform="matrix(1.0801,0,0,1.0481,1258.44,582.8)" font-size="19.5">e</text><text transform="matrix(1.0222,0,0,1.0485,1270.75,582.8)" font-size="19.5">l</text><text transform="matrix(1.0739,0,0,1.0259,1276.2,582.8)" font-size="19.5">y</text></g>
<g><text transform="matrix(1.0782,0,0,1.0408,1191.3,603.9)" font-size="19.5">n</text><text transform="matrix(1.0631,0,0,1.0481,1203.49,603.9)" font-size="19.5">o</text><text transform="matrix(1.0222,0,0,1.0485,1215.72,603.9)" font-size="19.5">i</text><text transform="matrix(0.9586,0,0,1.0509,1221.17,603.9)" font-size="19.5">s</text><text transform="matrix(1.0801,0,0,1.0481,1230.98,603.9)" font-size="19.5">e</text><text transform="matrix(1.0222,0,0,1.0485,1243.29,603.9)" font-size="19.5">l</text><text transform="matrix(1.0801,0,0,1.0481,1248.39,603.9)" font-size="19.5">e</text><text transform="matrix(0.9586,0,0,1.0509,1260.74,603.9)" font-size="19.5">s</text><text transform="matrix(0.9586,0,0,1.0509,1270.9,603.9)" font-size="19.5">s</text></g>
<g><text transform="matrix(1.0576,0,0,1.0596,854.81,638.19)" font-size="24.45">I</text><text transform="matrix(1.0782,0,0,1.0408,862.48,638.19)" font-size="24.45">n</text><text transform="matrix(1.3365,0,0,1.0731,877.67,638.19)" font-size="24.45">t</text><text transform="matrix(1.0801,0,0,1.0481,887.32,638.19)" font-size="24.45">e</text><text transform="matrix(1.2812,0,0,1.0408,902.28,638.19)" font-size="24.45">r</text><text transform="matrix(1.0879,0,0,1.0308,912.69,638.19)" font-size="24.45">p</text><text transform="matrix(1.0631,0,0,1.0481,927.97,638.19)" font-size="24.45">o</text><text transform="matrix(1.0222,0,0,1.0485,943.29,638.19)" font-size="24.45">l</text><text transform="matrix(0.8992,0,0,1.0481,949.99,638.19)" font-size="24.45">a</text><text transform="matrix(1.3365,0,0,1.0731,964.61,638.19)" font-size="24.45">t</text><text transform="matrix(1.0222,0,0,1.0485,974.66,638.19)" font-size="24.45">i</text><text transform="matrix(1.0782,0,0,1.0408,981.29,638.19)" font-size="24.45">n</text><text transform="matrix(1.0869,0,0,1.0322,996.55,638.19)" font-size="24.45">g</text><text transform="matrix(1.4577,0,0,1.0229,1010.52,638.19)" font-size="24.45">,</text><text transform="matrix(1.0391,0,0,1.0566,1027.23,638.19)" font-size="24.45">Ω</text><text transform="matrix(0.8453,0,0,0.9560,1046.89,638.19)" font-size="24.45">(</text><text transform="matrix(1.0068,0,0,1.0596,1056.42,638.19)" font-size="24.45">1</text><text transform="matrix(0.8453,0,0,0.9560,1073,638.19)" font-size="24.45">)</text></g>
<g><text transform="matrix(0.9886,0,0,1.0683,1275.12,651.39)" font-size="24.2">Θ</text><text transform="matrix(0.8453,0,0,0.9560,1294.75,651.39)" font-size="24.2">(</text><text transform="matrix(1.0741,0,0,1.0418,1303.8,651.39)" font-size="24.2" font-style="italic">n</text><text transform="matrix(1.2884,0,0,1.1644,1320.56,642.13)" font-size="16.94">−</text><text transform="matrix(0.9205,0,0,1.0522,1337,640.98)" font-size="16.94">˜</text><text transform="matrix(1.0246,0,0,1.0509,1334.19,642.13)" font-size="16.94" font-style="italic">s</text><text transform="matrix(1.0026,0,0,1.0450,1343.26,642.13)" font-size="16.94" font-style="italic">β</text><text transform="matrix(0.8453,0,0,0.9560,1356.16,651.39)" font-size="24.2">)</text></g>
<g><text transform="matrix(1.0363,0,0,1.0605,1212.59,680.79)" font-size="21.8" font-style="italic">θ</text><text transform="matrix(1.0631,0,0,1.0481,1226,684.37)" font-size="15.26">o</text><text transform="matrix(1.0879,0,0,1.0308,1235.49,684.37)" font-size="15.26">p</text><text transform="matrix(1.2884,0,0,0.8758,1250.64,680.79)" font-size="21.8">=</text><text transform="matrix(1.0026,0,0,1.0450,1272.73,680.79)" font-size="21.8" font-style="italic">β</text></g>
<g><text transform="matrix(0.9886,0,0,1.0683,788.56,710.69)" font-size="24.45">O</text><text transform="matrix(1.0792,0,0,1.0351,808.21,710.69)" font-size="24.45">v</text><text transform="matrix(1.0801,0,0,1.0481,822.27,710.69)" font-size="24.45">e</text><text transform="matrix(1.2812,0,0,1.0408,837.22,710.69)" font-size="24.45">r</text><text transform="matrix(1.3131,0,0,1.0499,847.24,710.69)" font-size="24.45">f</text><text transform="matrix(1.0222,0,0,1.0485,856.38,710.69)" font-size="24.45">i</text><text transform="matrix(1.3365,0,0,1.0731,862.7,710.69)" font-size="24.45">t</text><text transform="matrix(1.3365,0,0,1.0731,872.29,710.69)" font-size="24.45">t</text><text transform="matrix(1.0222,0,0,1.0485,882.34,710.69)" font-size="24.45">i</text><text transform="matrix(1.0782,0,0,1.0408,888.97,710.69)" font-size="24.45">n</text><text transform="matrix(1.0869,0,0,1.0322,904.23,710.69)" font-size="24.45">g</text></g>
<g><text transform="matrix(0.9886,0,0,1.0683,768.66,740.58)" font-size="24.3">Θ</text><text transform="matrix(0.8453,0,0,0.9560,788.38,740.58)" font-size="24.3">(</text><text transform="matrix(1.0024,0,0,1.0436,797.61,740.58)" font-size="24.3" font-style="italic">σ</text><text transform="matrix(1.0161,0,0,1.0629,813.91,731.28)" font-size="17.01">2</text><text transform="matrix(1.0741,0,0,1.0418,825.44,740.58)" font-size="24.3" font-style="italic">n</text><text transform="matrix(1.2884,0,0,1.1644,842.27,731.28)" font-size="17.01">−</text><text transform="matrix(0.8453,0,0,0.9560,856.37,731.28)" font-size="17.01">(</text><text transform="matrix(1.0068,0,0,1.0596,863,731.28)" font-size="17.01">1</text><text transform="matrix(1.2884,0,0,1.1644,877.29,731.28)" font-size="17.01">−</text><text transform="matrix(1.0363,0,0,1.0605,894.21,731.28)" font-size="17.01" font-style="italic">θ</text><text transform="matrix(1.2127,0,0,1.1190,904.55,731.28)" font-size="17.01">/</text><text transform="matrix(1.0026,0,0,1.0450,910.68,731.28)" font-size="17.01" font-style="italic">β</text><text transform="matrix(0.8453,0,0,0.9560,922.41,731.28)" font-size="17.01">)</text><text transform="matrix(0.8453,0,0,0.9560,930.26,740.58)" font-size="24.3">)</text></g>
<g><text transform="matrix(1.0363,0,0,1.0605,983.89,835.56)" font-size="21.7" font-style="italic">θ</text><text transform="matrix(1.0631,0,0,1.0481,997.24,839.12)" font-size="15.19">o</text><text transform="matrix(1.0879,0,0,1.0308,1006.69,839.12)" font-size="15.19">p</text><text transform="matrix(1.2884,0,0,0.8758,1021.77,835.56)" font-size="21.7">=</text><text transform="matrix(0.8453,0,0,0.9560,1043.75,822.89)" font-size="15.19">(</text><text transform="matrix(1.3430,0,0,1.0163,1049.71,822.89)" font-size="15.19" font-style="italic">τ</text><text transform="matrix(1.2884,0,0,1.2000,1061.93,822.89)" font-size="15.19">+</text><text transform="matrix(1.0068,0,0,1.0596,1077.47,822.89)" font-size="15.19">1</text><text transform="matrix(0.8453,0,0,0.9560,1087.77,822.89)" font-size="15.19">)</text><text transform="matrix(1.0026,0,0,1.0450,1092.91,822.89)" font-size="15.19" font-style="italic">β</text><text transform="matrix(0.9205,0,0,1.0522,1052.43,844.3)" font-size="15.19">˜</text><text transform="matrix(1.0246,0,0,1.0509,1049.91,845.33)" font-size="15.19" font-style="italic">s</text><text transform="matrix(1.0026,0,0,1.0450,1058.05,845.33)" font-size="15.19" font-style="italic">β</text><text transform="matrix(1.2884,0,0,1.2000,1071,845.33)" font-size="15.19">+</text><text transform="matrix(1.0068,0,0,1.0596,1086.54,845.33)" font-size="15.19">1</text><rect x="1043.25" y="830.12" width="59" height="1.36"/></g>
<g><text transform="matrix(0.9828,0,0,1.0651,1195.24,795.29)" font-size="24.5">U</text><text transform="matrix(1.0782,0,0,1.0408,1213.37,795.29)" font-size="24.5">n</text><text transform="matrix(1.0869,0,0,1.0539,1228.66,795.29)" font-size="24.5">d</text><text transform="matrix(1.0801,0,0,1.0481,1244.21,795.29)" font-size="24.5">e</text><text transform="matrix(1.2812,0,0,1.0408,1259.2,795.29)" font-size="24.5">r</text><text transform="matrix(1.3131,0,0,1.0499,1269.24,795.29)" font-size="24.5">f</text><text transform="matrix(1.0222,0,0,1.0485,1278.39,795.29)" font-size="24.5">i</text><text transform="matrix(1.3365,0,0,1.0731,1284.72,795.29)" font-size="24.5">t</text><text transform="matrix(1.3365,0,0,1.0731,1294.33,795.29)" font-size="24.5">t</text><text transform="matrix(1.0222,0,0,1.0485,1304.41,795.29)" font-size="24.5">i</text><text transform="matrix(1.0782,0,0,1.0408,1311.05,795.29)" font-size="24.5">n</text><text transform="matrix(1.0869,0,0,1.0322,1326.34,795.29)" font-size="24.5">g</text></g>
<g><text transform="matrix(0.9886,0,0,1.0683,1223.35,826.29)" font-size="24.5">Θ</text><text transform="matrix(0.8453,0,0,0.9560,1243.23,826.29)" font-size="24.5">(</text><text transform="matrix(1.0741,0,0,1.0418,1252.39,826.29)" font-size="24.5" font-style="italic">n</text><text transform="matrix(1.2884,0,0,1.1644,1269.36,816.91)" font-size="17.15">−</text><text transform="matrix(0.9205,0,0,1.0522,1286,815.75)" font-size="17.15">˜</text><text transform="matrix(1.0246,0,0,1.0509,1283.15,816.91)" font-size="17.15" font-style="italic">s</text><text transform="matrix(1.0363,0,0,1.0605,1292.01,816.91)" font-size="17.15" font-style="italic">θ</text><text transform="matrix(0.8453,0,0,0.9560,1304.94,826.29)" font-size="24.5">)</text></g>
<g><text transform="matrix(0.9828,0,0,1.0651,971.64,915.89)" font-size="24.5">U</text><text transform="matrix(1.0782,0,0,1.0408,989.77,915.89)" font-size="24.5">n</text><text transform="matrix(1.0869,0,0,1.0539,1005.06,915.89)" font-size="24.5">d</text><text transform="matrix(1.0801,0,0,1.0481,1020.61,915.89)" font-size="24.5">e</text><text transform="matrix(1.2812,0,0,1.0408,1035.6,915.89)" font-size="24.5">r</text><text transform="matrix(1.3131,0,0,1.0499,1045.64,915.89)" font-size="24.5">f</text><text transform="matrix(1.0222,0,0,1.0485,1054.79,915.89)" font-size="24.5">i</text><text transform="matrix(1.3365,0,0,1.0731,1061.12,915.89)" font-size="24.5">t</text><text transform="matrix(1.3365,0,0,1.0731,1070.73,915.89)" font-size="24.5">t</text><text transform="matrix(1.0222,0,0,1.0485,1080.81,915.89)" font-size="24.5">i</text><text transform="matrix(1.0782,0,0,1.0408,1087.45,915.89)" font-size="24.5">n</text><text transform="matrix(1.0869,0,0,1.0322,1102.74,915.89)" font-size="24.5">g</text></g>
<g><text transform="matrix(0.9886,0,0,1.0683,999.95,947.29)" font-size="24.5">Θ</text><text transform="matrix(0.8453,0,0,0.9560,1019.83,947.29)" font-size="24.5">(</text><text transform="matrix(1.0741,0,0,1.0418,1028.99,947.29)" font-size="24.5" font-style="italic">n</text><text transform="matrix(1.2884,0,0,1.1644,1045.96,937.91)" font-size="17.15">−</text><text transform="matrix(0.9205,0,0,1.0522,1062.6,936.75)" font-size="17.15">˜</text><text transform="matrix(1.0246,0,0,1.0509,1059.75,937.91)" font-size="17.15" font-style="italic">s</text><text transform="matrix(1.0363,0,0,1.0605,1068.61,937.91)" font-size="17.15" font-style="italic">θ</text><text transform="matrix(0.8453,0,0,0.9560,1081.54,947.29)" font-size="24.5">)</text></g>
<rect x="1235.7" y="964.3" width="123.6" height="27.2" rx="3" ry="3" fill="#ffffff" fill-opacity="0.8" stroke="#cccccc" stroke-width="1"/>
<line x1="1240.2" y1="977.2" x2="1271.8" y2="977.2" stroke="#2874ab" stroke-width="2.6"/>
<g><text transform="matrix(0.9886,0,0,1.0683,1282.12,981.39)" font-size="14.6">O</text><text transform="matrix(1.0879,0,0,1.0308,1293.77,981.39)" font-size="14.6">p</text><text transform="matrix(1.3365,0,0,1.0731,1302.84,981.39)" font-size="14.6">t</text><text transform="matrix(1.0222,0,0,1.0485,1308.84,981.39)" font-size="14.6">i</text><text transform="matrix(1.1394,0,0,1.0408,1312.74,981.39)" font-size="14.6">m</text><text transform="matrix(0.8992,0,0,1.0481,1327.06,981.39)" font-size="14.6">a</text><text transform="matrix(1.0222,0,0,1.0485,1336.06,981.39)" font-size="14.6">l</text><text transform="matrix(1.0363,0,0,1.0605,1344.45,981.39)" font-size="14.6" font-style="italic">θ</text></g>
</svg>
</body></html>
